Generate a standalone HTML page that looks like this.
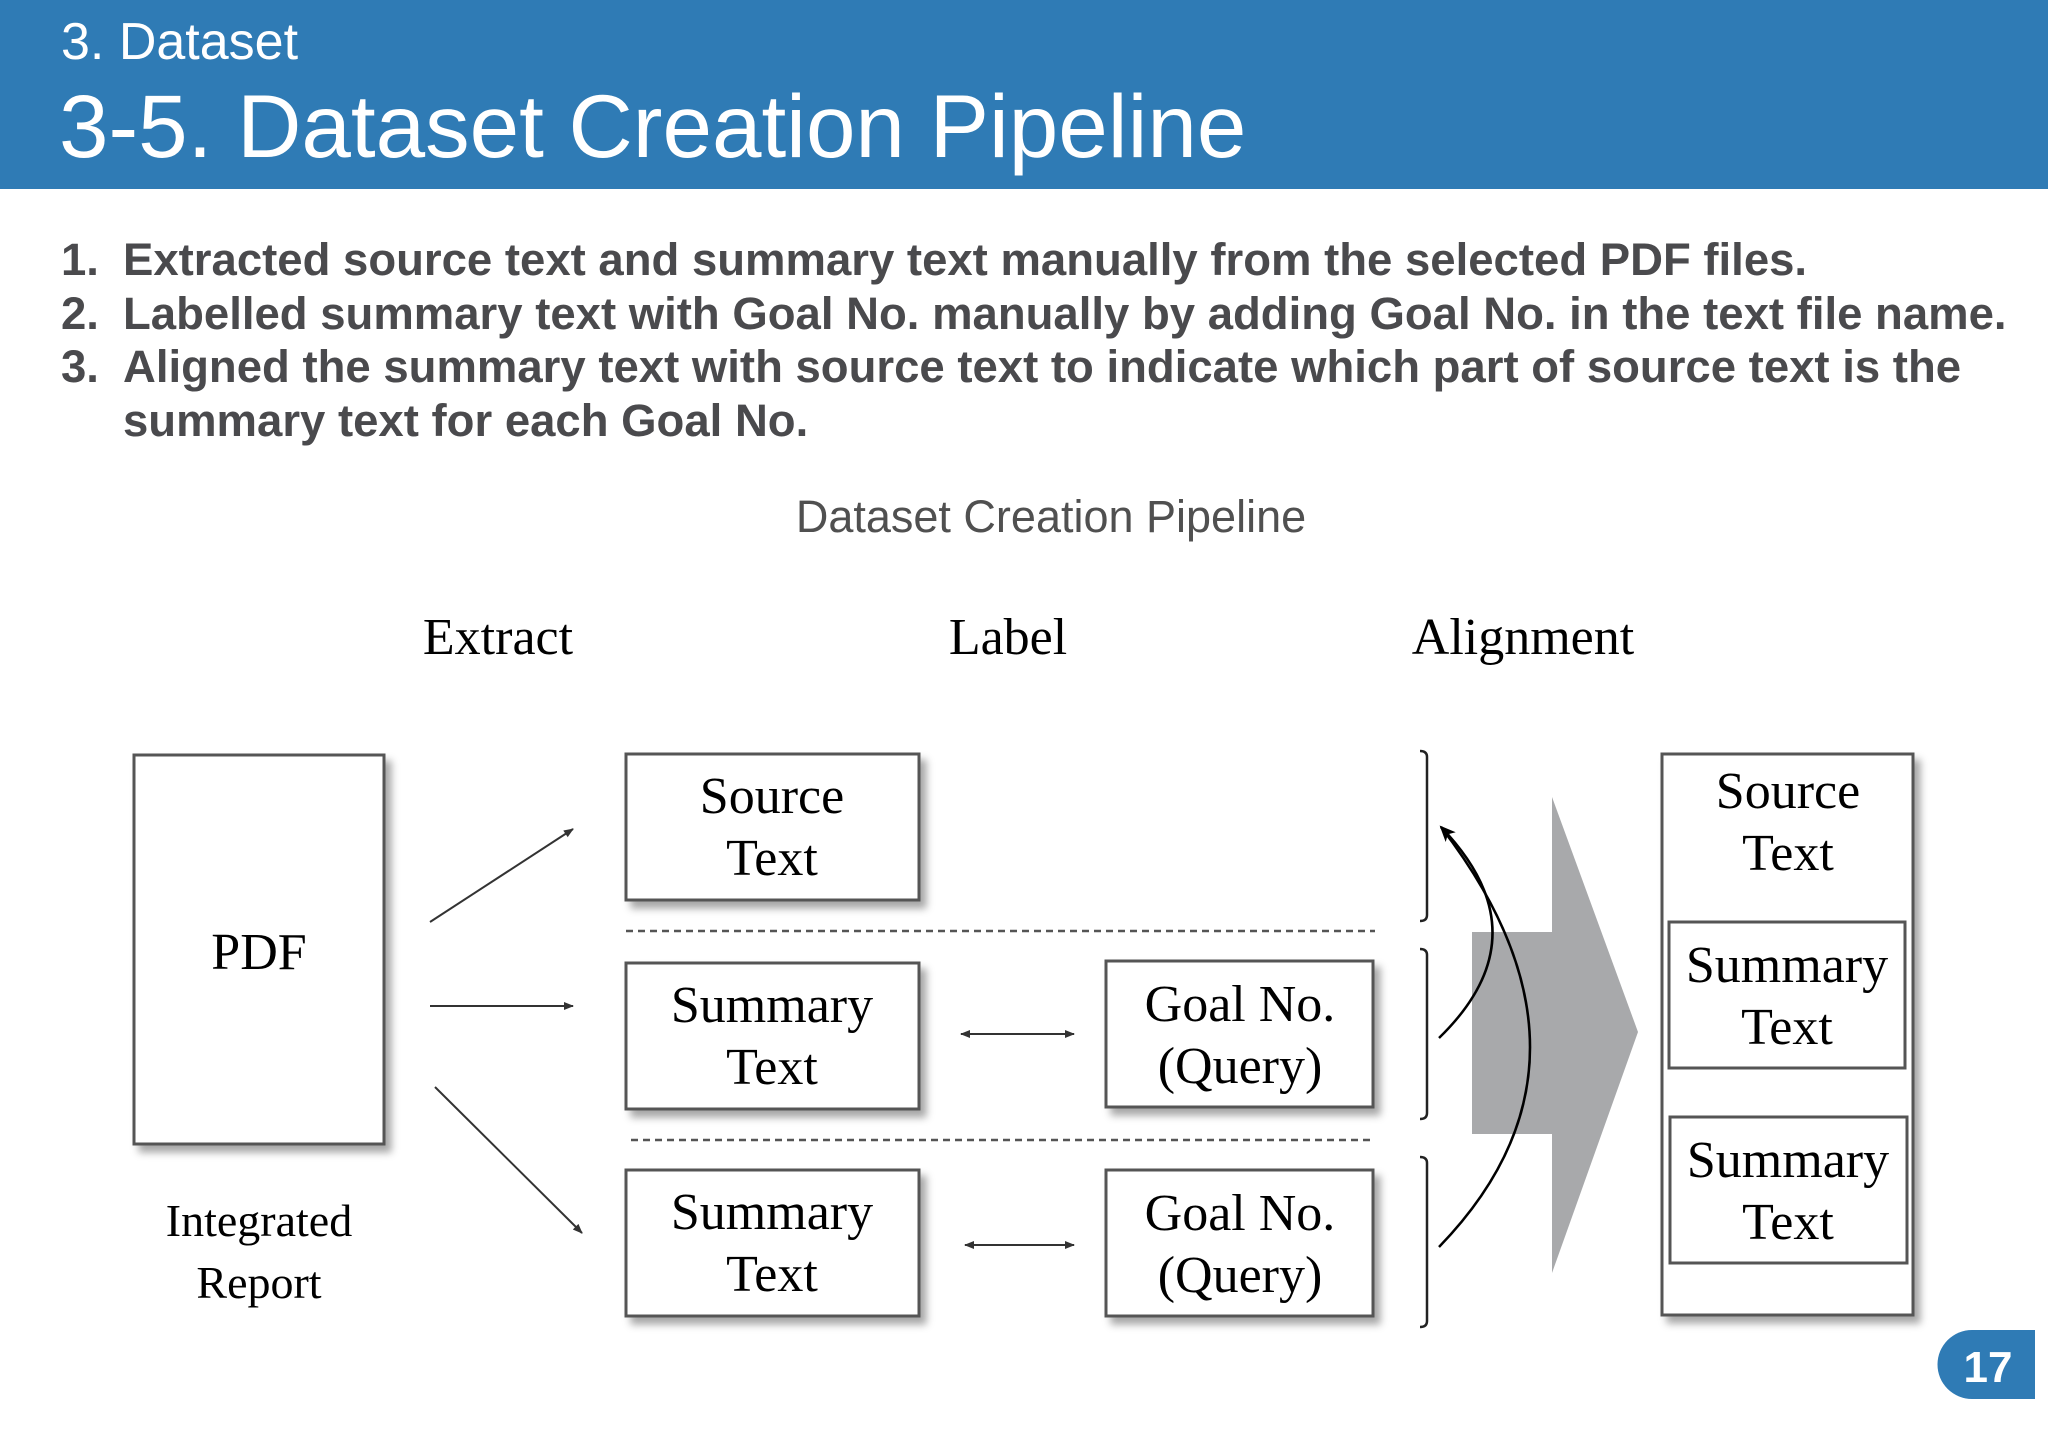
<!DOCTYPE html>
<html><head><meta charset="utf-8"><style>
html,body{margin:0;padding:0;background:#fff;}
body{width:2048px;height:1447px;position:relative;overflow:hidden;font-family:"Liberation Sans",sans-serif;}
.hdr{position:absolute;left:0;top:0;width:2048px;height:189px;background:#2f7bb5;}
.t1{position:absolute;left:61px;top:12px;font-size:52px;color:#fff;}
.t2{position:absolute;left:59px;top:75px;font-size:89px;color:#fff;}
.bl{position:absolute;left:61px;font-size:45.5px;font-weight:bold;color:#4a4a4d;white-space:nowrap;}
.bl span{display:inline-block;width:62px;}
</style></head><body>
<div class="hdr"></div>
<div class="t1">3. Dataset</div>
<div class="t2">3-5. Dataset Creation Pipeline</div>
<div class="bl" style="top:234px"><span>1.</span>Extracted source text and summary text manually from the selected PDF files.</div>
<div class="bl" style="top:288px"><span>2.</span>Labelled summary text with Goal No. manually by adding Goal No. in the text file name.</div>
<div class="bl" style="top:341px"><span>3.</span>Aligned the summary text with source text to indicate which part of source text is the</div>
<div class="bl" style="top:395px"><span></span>summary text for each Goal No.</div>
<svg width="2048" height="1447" style="position:absolute;left:0;top:0" xmlns="http://www.w3.org/2000/svg">
<defs>
<filter id="sh" x="-10%" y="-10%" width="130%" height="130%"><feDropShadow dx="6" dy="7" stdDeviation="4" flood-color="#000" flood-opacity="0.35"/></filter>
<marker id="ah" markerWidth="10" markerHeight="10" refX="9" refY="5" orient="auto-start-reverse" markerUnits="userSpaceOnUse"><path d="M0,1 L10,5 L0,9 Z" fill="#333"/></marker>
<marker id="ah2" markerWidth="16" markerHeight="16" refX="14" refY="8" orient="auto" markerUnits="userSpaceOnUse"><path d="M0,1 L16,8 L0,15 L4,8 Z" fill="#000"/></marker>
</defs>
<text x="1051" y="532" font-family="Liberation Sans" font-size="45" fill="#505050" text-anchor="middle">Dataset Creation Pipeline</text>
<g font-family="Liberation Serif" font-size="52" fill="#000" text-anchor="middle">
<text x="498" y="654">Extract</text>
<text x="1008" y="654">Label</text>
<text x="1523" y="654">Alignment</text>
</g>
<g fill="#fff" stroke="#555" stroke-width="3" filter="url(#sh)">
<rect x="134" y="755" width="250" height="389"/>
<rect x="626" y="754" width="293" height="146"/>
<rect x="626" y="963" width="293" height="146"/>
<rect x="626" y="1170" width="293" height="146"/>
<rect x="1106" y="961" width="267" height="146"/>
<rect x="1106" y="1170" width="267" height="146"/>
<rect x="1662" y="754" width="251" height="561"/>
</g>
<g fill="none" stroke="#555" stroke-width="3">
<rect x="1669" y="922" width="236" height="146"/>
<rect x="1670" y="1117" width="237" height="146"/>
</g>
<g stroke="#555" stroke-width="2.5" stroke-dasharray="7,5">
<line x1="626" y1="931" x2="1375" y2="931"/>
<line x1="631" y1="1140" x2="1375" y2="1140"/>
</g>
<g stroke="#333" stroke-width="2" fill="none">
<line x1="430" y1="922" x2="573" y2="829" marker-end="url(#ah)"/>
<line x1="430" y1="1006" x2="573" y2="1006" marker-end="url(#ah)"/>
<line x1="435" y1="1087" x2="582" y2="1233" marker-end="url(#ah)"/>
<line x1="961" y1="1034" x2="1074" y2="1034" marker-start="url(#ah)" marker-end="url(#ah)"/>
<line x1="965" y1="1245" x2="1074" y2="1245" marker-start="url(#ah)" marker-end="url(#ah)"/>
</g>
<g stroke="#222" stroke-width="2.5" fill="none">
<path d="M1420,751 Q1427,751 1427,757 L1427,915 Q1427,921 1420,921"/>
<path d="M1420,949 Q1427,949 1427,955 L1427,1113 Q1427,1119 1420,1119"/>
<path d="M1420,1157 Q1427,1157 1427,1163 L1427,1321 Q1427,1327 1420,1327"/>
</g>
<rect x="1472" y="932" width="82" height="202" fill="#a8a9ab"/>
<polygon points="1552,797 1638,1032 1552,1273" fill="#a8a9ab"/>
<g stroke="#000" stroke-width="2.5" fill="none">
<path d="M1439,1038 Q1545,935 1441,827" marker-end="url(#ah2)"/>
<path d="M1439,1247 Q1620,1060 1441,827"/>
</g>
<g font-family="Liberation Serif" font-size="52" fill="#000" text-anchor="middle">
<text x="259" y="969">PDF</text>
<text x="259" y="1236" font-size="46">Integrated</text>
<text x="259" y="1298" font-size="46">Report</text>
<text x="772" y="813">Source</text><text x="772" y="875">Text</text>
<text x="772" y="1022">Summary</text><text x="772" y="1084">Text</text>
<text x="772" y="1229">Summary</text><text x="772" y="1291">Text</text>
<text x="1240" y="1021">Goal No.</text><text x="1240" y="1083">(Query)</text>
<text x="1240" y="1230">Goal No.</text><text x="1240" y="1292">(Query)</text>
<text x="1788" y="808">Source</text><text x="1788" y="870">Text</text>
<text x="1787" y="982">Summary</text><text x="1787" y="1044">Text</text>
<text x="1788" y="1177">Summary</text><text x="1788" y="1239">Text</text>
</g>
<path d="M1972,1330 L2035,1330 L2035,1399 L1972,1399 A34.5,34.5 0 0 1 1972,1330 Z" fill="#2f7bb5"/>
<text x="1988" y="1382" font-family="Liberation Sans" font-weight="bold" font-size="44" fill="#fff" text-anchor="middle">17</text>
</svg>
</body></html>
